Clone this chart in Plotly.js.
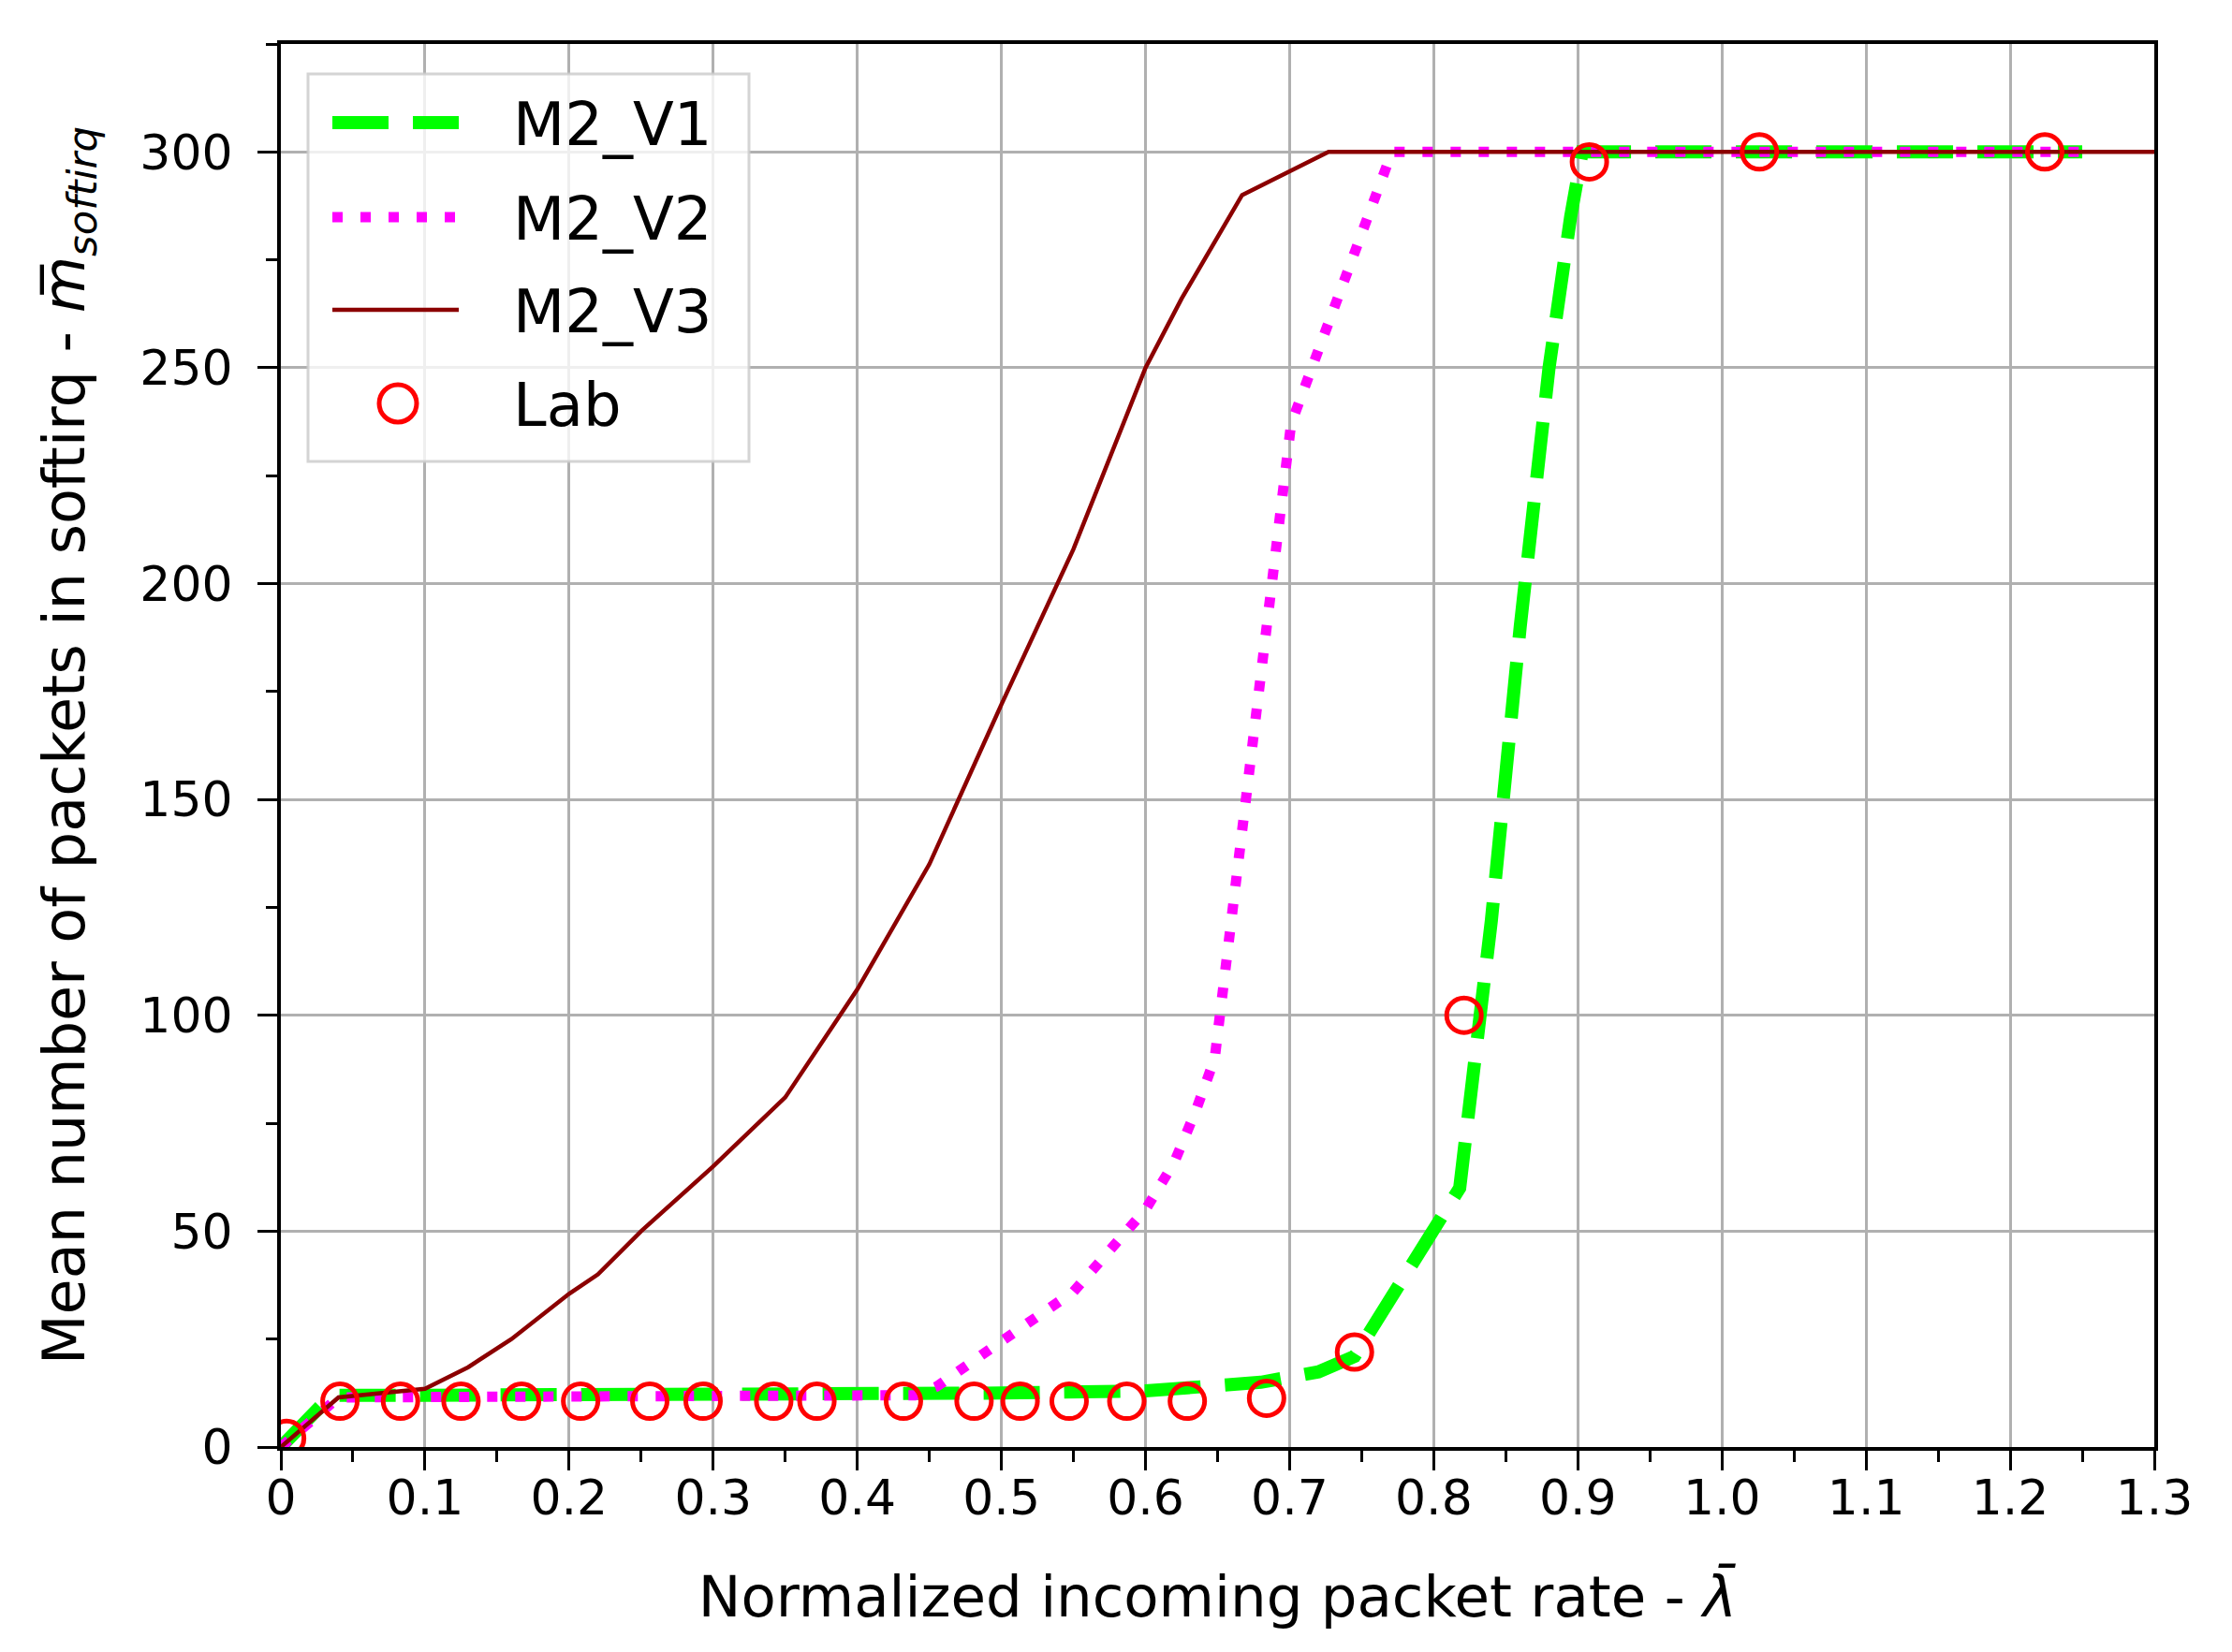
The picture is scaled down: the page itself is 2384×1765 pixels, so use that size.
<!DOCTYPE html>
<html>
<head>
<meta charset="utf-8">
<script src="https://cdn.plot.ly/plotly-3.0.1.min.js"></script>
<style>html,body{margin:0;padding:0;background:#fff;}#chart{width:2384px;height:1765px;}</style>
</head>
<body>
<div id="chart"></div>
<script>
// Series names
const seriesNames = ['M2_V1', 'M2_V2', 'M2_V3', 'Lab'];
// M2_V1 (green dashed)
const v1X = [0, 0.035, 0.1, 0.2, 0.3, 0.4, 0.5, 0.6, 0.65, 0.68, 0.72, 0.745, 0.818, 0.84, 0.86, 0.88, 0.895, 0.903, 1.0, 1.1, 1.2, 1.25];
const v1Y = [0, 12, 12, 12, 12, 12, 12.5, 13, 14, 15, 17.4, 21, 60, 122, 190, 250, 285, 300, 300, 300, 300, 300];
// M2_V2 (magenta dotted)
const v2X = [0, 0.04, 0.44, 0.455, 0.5, 0.55, 0.6, 0.62, 0.635, 0.648, 0.701, 0.72, 0.74, 0.771, 1.0, 1.25];
const v2Y = [0, 11.5, 12, 14, 24.5, 36, 55, 66, 78, 90, 237, 254, 273, 300, 300, 300];
// M2_V3 (dark red solid)
const v3X = [0, 0.04, 0.1, 0.13, 0.16, 0.2, 0.22, 0.25, 0.3, 0.35, 0.4, 0.45, 0.5, 0.55, 0.6, 0.625, 0.667, 0.727, 1.0, 1.3];
const v3Y = [0, 11.5, 13.5, 18.5, 25, 35.5, 40, 50, 65, 81, 106, 135, 172, 208, 250, 266, 290, 300, 300, 300];
// Lab measurements (red open circles)
const labX = [0.004, 0.041, 0.083, 0.125, 0.167, 0.208, 0.256, 0.293, 0.342, 0.372, 0.432, 0.481, 0.513, 0.547, 0.587, 0.629, 0.684, 0.745, 0.821, 0.908, 1.026, 1.224];
const labY = [2, 10.6, 10.6, 10.6, 10.6, 10.6, 10.6, 10.6, 10.6, 10.6, 10.6, 10.6, 10.6, 10.6, 10.6, 10.6, 11.3, 22, 100, 297.7, 300, 300];

const xTickVals = [0, 0.1, 0.2, 0.3, 0.4, 0.5, 0.6, 0.7, 0.8, 0.9, 1.0, 1.1, 1.2, 1.3];
const xTickText = ['0', '0.1', '0.2', '0.3', '0.4', '0.5', '0.6', '0.7', '0.8', '0.9', '1.0', '1.1', '1.2', '1.3'];
const yTickVals = [0, 50, 100, 150, 200, 250, 300];

const FONT = 'DejaVu Sans, Liberation Sans, sans-serif';
const W = 2384, H = 1765;
const M = {l: 300, r: 83, t: 47, b: 219};

const styles = [
  {color: '#00ff00', width: 14, dash: '60px,26px'},
  {color: '#ff00ff', width: 11, dash: '11px,19px'},
  {color: '#8b0000', width: 4.5, dash: 'solid'}
];
const labMarker = {symbol: 'circle-open', size: 37, color: '#ff0000', line: {width: 5, color: '#ff0000'}};

const traces = [
  {x: v1X, y: v1Y, name: seriesNames[0], mode: 'lines', line: styles[0]},
  {x: v2X, y: v2Y, name: seriesNames[1], mode: 'lines', line: styles[1]},
  {x: v3X, y: v3Y, name: seriesNames[2], mode: 'lines', line: styles[2]},
  {x: labX, y: labY, name: seriesNames[3], mode: 'markers', marker: labMarker}
];

// Legend drawn in pixel space converted to paper coordinates
const pw = W - M.l - M.r, ph = H - M.t - M.b;
const px = v => (v - M.l) / pw;
const py = v => (H - M.b - v) / ph;

const legBox = {x0: 329, x1: 800, y0: 79, y1: 493};
const rowY = [131, 232, 331, 431];
const symX0 = 355, symX1 = 490, textX = 546;

const shapes = [
  {type: 'rect', xref: 'paper', yref: 'paper', x0: px(legBox.x0), x1: px(legBox.x1), y0: py(legBox.y1), y1: py(legBox.y0),
   fillcolor: 'rgba(255,255,255,0.8)', line: {color: 'rgba(204,204,204,0.85)', width: 3}, layer: 'above'}
];
for (let i = 0; i < 3; i++) {
  shapes.push({type: 'line', xref: 'paper', yref: 'paper', x0: px(symX0), x1: px(symX1), y0: py(rowY[i]), y1: py(rowY[i]),
    line: {color: styles[i].color, width: styles[i].width, dash: styles[i].dash}, layer: 'above'});
}
const r = 20;
shapes.push({type: 'circle', xref: 'paper', yref: 'paper', x0: px(425 - r), x1: px(425 + r), y0: py(rowY[3] + r), y1: py(rowY[3] - r),
  line: {color: '#ff0000', width: 5}, fillcolor: 'rgba(0,0,0,0)', layer: 'above'});

const annotations = seriesNames.map((n, i) => ({
  xref: 'paper', yref: 'paper', x: px(textX), y: py(rowY[i] + 2), xanchor: 'left', yanchor: 'middle',
  text: n, showarrow: false, font: {family: FONT, size: 64, color: '#000'}
}));

const axisCommon = {
  showline: true, linecolor: '#000', linewidth: 4, mirror: true,
  showgrid: true, gridcolor: '#b0b0b0', gridwidth: 3,
  zeroline: false, ticks: 'outside', ticklen: 21, tickwidth: 3, tickcolor: '#000',
  tickfont: {family: FONT, size: 52, color: '#000'}
};

const layout = {
  width: W, height: H,
  paper_bgcolor: '#fff', plot_bgcolor: '#fff',
  margin: M,
  showlegend: false,
  shapes: shapes,
  annotations: annotations,
  xaxis: Object.assign({}, axisCommon, {
    range: [0, 1.3], tickmode: 'array', tickvals: xTickVals, ticktext: xTickText,
    ticklabelstandoff: -15,
    minor: {dtick: 0.05, ticks: 'outside', ticklen: 12, tickwidth: 3, tickcolor: '#000', showgrid: false},
    title: {text: 'Normalized incoming packet rate - <i>\u03bb\u0304</i>', font: {family: FONT, size: 61, color: '#000'}, standoff: 56}
  }),
  yaxis: Object.assign({}, axisCommon, {
    range: [0, 325], tickmode: 'array', tickvals: yTickVals,
    ticklabelstandoff: 16,
    minor: {dtick: 25, ticks: 'outside', ticklen: 12, tickwidth: 3, tickcolor: '#000', showgrid: false},
    title: {text: 'Mean number of packets in softirq - <i>m\u0305</i><sub><i>softirq</i></sub>', font: {family: FONT, size: 62, color: '#000'}, standoff: 40}
  })
};

Plotly.newPlot('chart', traces, layout, {staticPlot: true});
</script>
</body>
</html>
